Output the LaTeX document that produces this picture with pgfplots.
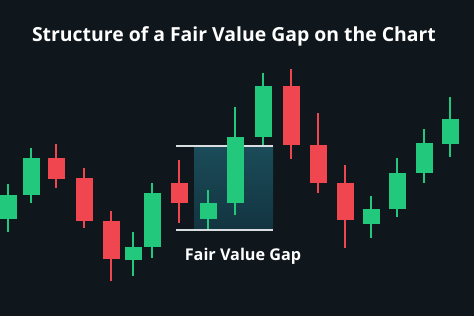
\documentclass[border=0pt]{standalone}
\usepackage{pgfplots}
\pgfplotsset{compat=1.18}
\usepackage{pgfplotstable}
\usepackage{fontspec}
\setmainfont{Open Sans}
\definecolor{bg}{HTML}{0F161C}
\definecolor{bull}{HTML}{22C97C}
\definecolor{bear}{HTML}{F0464F}
\definecolor{gaptop}{HTML}{1B4C59}
\definecolor{gapbot}{HTML}{123440}
\definecolor{gapline}{HTML}{D8DDE0}

% candles: x position, open, close, high, low
\pgfplotstableread{
x   open close high low
8   97   121   132  84
31  121  158   168  113
133 56   69    84   40
152 69   123   133  58
208 97   113   126  87
235 113  179   209  101
263 179  230   243  171
371 92   107   120  78
397 107  143   158  99
424 143  173   187  133
450 172  197   219  159
}\bullish
\pgfplotstableread{
x   open close high low
56  158  137   172  128
84  138  95    148  88
111 95   57    105  35
179 133  113   156  93
291 230  171   247  157
318 171  133   203  123
345 133  96    151  68
}\bearish

\pgfplotsset{
  wick/.style={draw=none, mark=none, forget plot,
    error bars/.cd, y dir=plus, y explicit, error mark=none,
    error bar style={line width=1.5pt, color=#1}},
  body/.style={draw=none, mark=none, forget plot,
    error bars/.cd, y dir=plus, y explicit, error mark=none,
    error bar style={line width=17pt, color=#1}},
}

\begin{document}
\begin{tikzpicture}
\begin{axis}[
  scale only axis, width=474pt, height=316pt,
  xmin=0, xmax=474, ymin=0, ymax=316,
  axis lines=none, ticks=none,
  axis background/.style={fill=bg},
  clip=true,
]
% gap zone
\fill[top color=gaptop, bottom color=gapbot, draw=none]
  (axis cs:194,86) rectangle (axis cs:273,170);
\draw[gapline, line width=1.3pt] (axis cs:176,170) -- (axis cs:273,170);
\draw[gapline, line width=1.3pt] (axis cs:176,86) -- (axis cs:273,86);

% wicks
\addplot[wick=bull] table[x=x, y=low, y error expr=\thisrow{high}-\thisrow{low}] {\bullish};
\addplot[wick=bear] table[x=x, y=low, y error expr=\thisrow{high}-\thisrow{low}] {\bearish};
% bodies
\addplot[body=bull] table[x=x, y=open, y error expr=\thisrow{close}-\thisrow{open}] {\bullish};
\addplot[body=bear] table[x=x, y=close, y error expr=\thisrow{open}-\thisrow{close}] {\bearish};

\node[text=white, font=\bfseries\fontsize{19.4}{23}\selectfont]
  at (axis cs:234,280) {Structure of a Fair Value Gap on the Chart};
\node[text=white, font=\bfseries\fontsize{16.2}{19}\selectfont]
  at (axis cs:243,60) {Fair Value Gap};
\end{axis}
\end{tikzpicture}
\end{document}
